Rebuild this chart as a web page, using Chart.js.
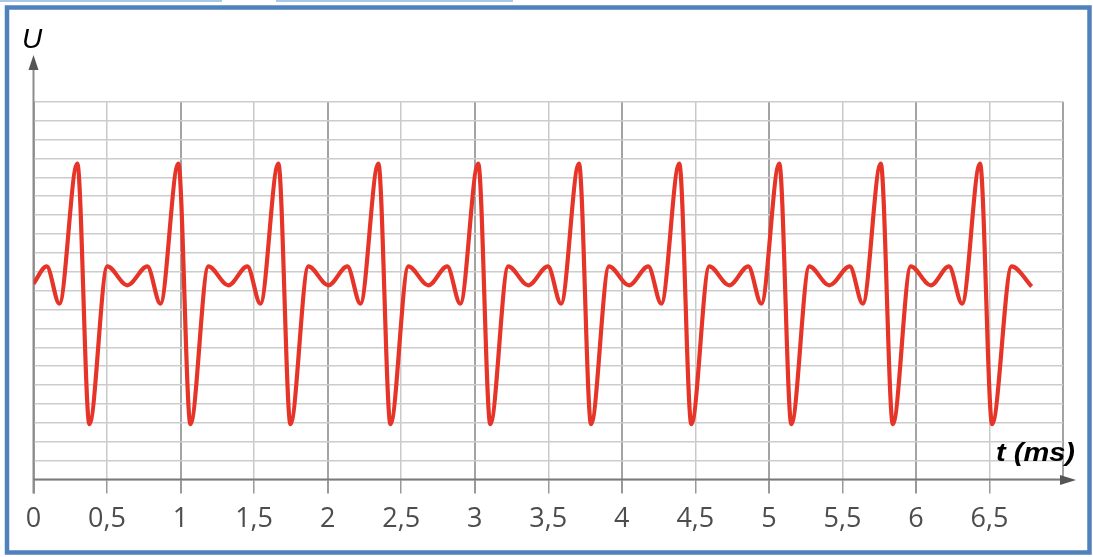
<!DOCTYPE html>
<html>
<head>
<meta charset="utf-8">
<script src="https://cdn.jsdelivr.net/npm/chart.js@4.4.1/dist/chart.umd.min.js"></script>
<style>
  html, body { margin: 0; padding: 0; background: #ffffff; }
  #wrap { width: 1093px; height: 557px; position: relative; }
</style>
</head>
<body>
<div id="wrap"><canvas id="c" width="1093" height="557"></canvas></div>
<script>
// Time (ms) of each read turning point of the waveform
const times = [
  0.000, 0.090, 0.176, 0.298, 0.380, 0.502, 0.638,
  0.774, 0.863, 0.985, 1.067, 1.189, 1.325,
  1.454, 1.543, 1.665, 1.747, 1.869, 2.005,
  2.134, 2.223, 2.345, 2.427, 2.549, 2.685,
  2.813, 2.902, 3.024, 3.106, 3.228, 3.364,
  3.498, 3.587, 3.709, 3.791, 3.913, 4.049,
  4.180, 4.269, 4.391, 4.473, 4.595, 4.731,
  4.860, 4.949, 5.071, 5.153, 5.275, 5.411,
  5.550, 5.639, 5.761, 5.843, 5.965, 6.101,
  6.225, 6.314, 6.436, 6.518, 6.651, 6.787
];
// Voltage (grid units) at those times
const volts = [
  0.37, 1.28, -0.69, 6.73, -7.06, 1.28, 0.28,
  1.28, -0.69, 6.73, -7.06, 1.28, 0.28,
  1.28, -0.69, 6.73, -7.06, 1.28, 0.28,
  1.28, -0.69, 6.73, -7.06, 1.28, 0.28,
  1.28, -0.69, 6.73, -7.06, 1.28, 0.28,
  1.28, -0.69, 6.73, -7.06, 1.28, 0.28,
  1.28, -0.69, 6.73, -7.06, 1.28, 0.28,
  1.28, -0.69, 6.73, -7.06, 1.28, 0.28,
  1.28, -0.69, 6.73, -7.06, 1.28, 0.28,
  1.28, -0.69, 6.73, -7.06, 1.28, 0.22
];
const tickLabels = ["0", "0,5", "1", "1,5", "2", "2,5", "3", "3,5", "4", "4,5", "5", "5,5", "6", "6,5"];
const xTitle = "t (ms)";
const yTitle = "U";

const points = times.map((t, i) => ({ x: t, y: volts[i] }));

const decor = {
  id: 'decor',
  beforeDraw(chart) {
    const ctx = chart.ctx;
    ctx.save();
    ctx.fillStyle = '#ffffff';
    ctx.fillRect(0, 0, chart.width, chart.height);
    ctx.fillStyle = '#a9c8e8';
    ctx.fillRect(0, 0, 222, 2);
    ctx.fillRect(276, 0, 237, 2);
    ctx.restore();
  },
  beforeDatasetsDraw(chart) {
    const ctx = chart.ctx;
    const a = chart.chartArea;
    ctx.save();
    ctx.strokeStyle = '#8c8c8c';
    ctx.lineWidth = 2;
    ctx.beginPath();
    ctx.moveTo(a.left, a.bottom + 14);
    ctx.lineTo(a.left, 66);
    ctx.stroke();
    ctx.fillStyle = '#555555';
    ctx.beginPath();
    ctx.moveTo(a.left, 55);
    ctx.lineTo(a.left - 5, 70);
    ctx.lineTo(a.left + 5, 70);
    ctx.closePath();
    ctx.fill();
    ctx.strokeStyle = '#7a7a7a';
    ctx.beginPath();
    ctx.moveTo(a.left, a.bottom);
    ctx.lineTo(1064, a.bottom);
    ctx.stroke();
    ctx.fillStyle = '#555555';
    ctx.beginPath();
    ctx.moveTo(1076, a.bottom + 0.5);
    ctx.lineTo(1060, a.bottom - 4.5);
    ctx.lineTo(1060, a.bottom + 5.5);
    ctx.closePath();
    ctx.fill();
    ctx.restore();
  },
  afterDraw(chart) {
    const ctx = chart.ctx;
    ctx.save();
    ctx.fillStyle = '#000000';
    ctx.textBaseline = 'alphabetic';
    ctx.textAlign = 'left';
    ctx.font = 'italic 28px "Liberation Sans", Arial, sans-serif';
    ctx.fillText(yTitle, 22, 48);
    ctx.font = 'bold italic 25px "Liberation Sans", Arial, sans-serif';
    const w = ctx.measureText(xTitle).width;
    ctx.translate(996, 461);
    ctx.scale(79 / w, 1);
    ctx.fillText(xTitle, 0, 0);
    ctx.restore();
    ctx.save();
    ctx.strokeStyle = '#4f81bd';
    ctx.lineWidth = 4.5;
    ctx.strokeRect(7, 7.5, 1082.5, 545);
    ctx.restore();
  }
};

new Chart(document.getElementById('c'), {
  type: 'line',
  data: {
    datasets: [{
      data: points,
      borderColor: '#e63428',
      borderWidth: 4.2,
      pointRadius: 0,
      cubicInterpolationMode: 'monotone',
      fill: false
    }]
  },
  options: {
    responsive: false,
    animation: false,
    events: [],
    layout: { padding: { left: 33.5, right: 30, top: 101.7, bottom: 12 } },
    plugins: { legend: { display: false }, tooltip: { enabled: false } },
    scales: {
      x: {
        type: 'linear',
        min: 0,
        max: 7,
        border: { display: false },
        grid: {
          color: c => (c.tick && Number.isInteger(c.tick.value)) ? '#a3a3a3' : '#c9c9c9',
          lineWidth: c => (c.tick && Number.isInteger(c.tick.value)) ? 2 : 1.5,
          tickColor: c => (c.tick && c.tick.value >= 7) ? 'rgba(0,0,0,0)' : '#999999',
          tickLength: 14,
          drawTicks: true
        },
        ticks: {
          stepSize: 0.5,
          autoSkip: false,
          maxRotation: 0,
          padding: 9.5,
          color: '#4d4d4d',
          font: { family: '"Open Sans", sans-serif', size: 27 },
          callback: (v, i) => (tickLabels[i] !== undefined ? tickLabels[i] : '')
        }
      },
      y: {
        type: 'linear',
        min: -10,
        max: 10,
        border: { display: false },
        grid: { color: '#cccccc', lineWidth: 1.5, drawTicks: false },
        ticks: { display: false, stepSize: 1 }
      }
    }
  },
  plugins: [decor]
});
</script>
</body>
</html>
